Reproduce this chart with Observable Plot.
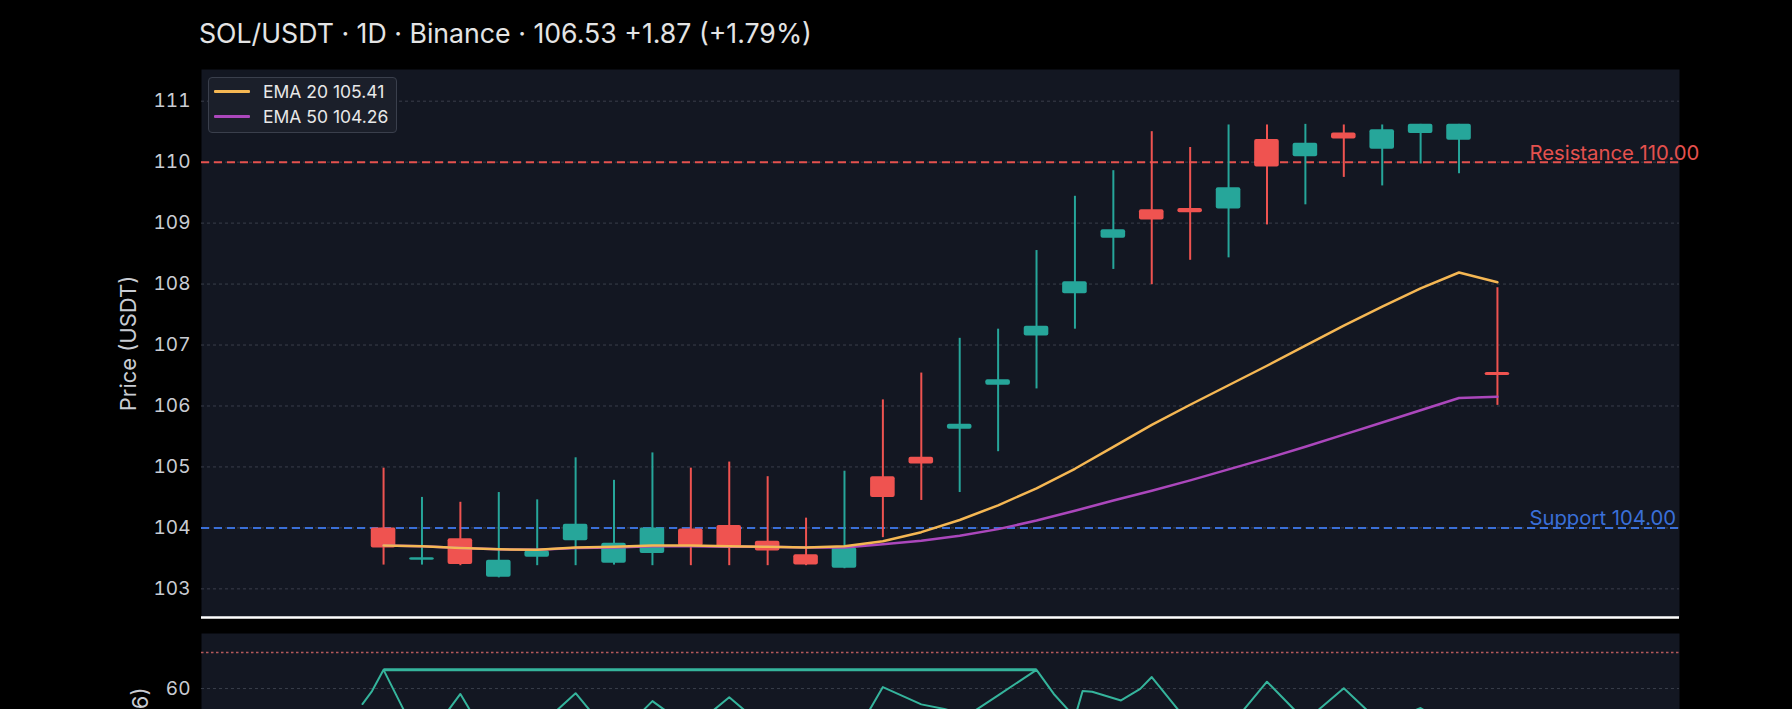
<!DOCTYPE html>
<html>
<head>
<meta charset="utf-8">
<script src="https://cdn.jsdelivr.net/npm/d3@7"></script>
<script src="https://cdn.jsdelivr.net/npm/@observablehq/plot@0.6"></script>
<style>
  html, body { margin: 0; padding: 0; background: #000; }
  body { font-family: Inter, "Noto Sans", sans-serif; }
  #wrap { position: relative; width: 1792px; }
  #title { height: 60px; line-height: 66px; padding-left: 199px; font-size: 26.7px; color: #e4e4e4; white-space: nowrap; }
  #main, #rsi { display: block; line-height: 0; }
  #legend { position: absolute; left: 208px; top: 77px; width: 189px; height: 56px; box-sizing: border-box;
            background: #1b1f2a; border: 1px solid #3a3f4c; border-radius: 4px; font-size: 17.5px; color: #e8e8e8; }
  .row { position: absolute; left: 5px; height: 20px; display: flex; align-items: center; white-space: nowrap; }
  .sw { width: 36px; height: 3px; margin-right: 13px; border-radius: 1px; }
</style>
</head>
<body>
<div id="wrap">
  <div id="title"></div>
  <div id="main"></div>
  <div id="rsi"></div>
  <div id="legend"></div>
</div>
<script>
// ---------- data ----------
const titleText = "SOL/USDT · 1D · Binance · 106.53 +1.87 (+1.79%)";
const opens  = [104.00,103.47,103.82,103.19,103.52,103.79,103.42,103.58,103.98,104.04,103.78,103.56,103.34,104.84,105.16,105.62,106.34,107.15,107.84,108.75,109.22,109.24,109.23,110.37,110.09,110.48,110.21,110.47,110.36,106.55];
const highs  = [104.98,104.50,104.42,104.58,104.46,105.15,104.78,105.23,104.98,105.08,104.84,104.16,104.93,106.10,106.54,107.11,107.26,108.55,109.44,109.86,110.50,110.24,110.61,110.61,110.62,110.61,110.61,110.62,110.62,107.94];
const lows   = [103.39,103.39,103.38,103.18,103.38,103.38,103.39,103.38,103.38,103.38,103.38,103.38,103.33,103.84,104.45,104.58,105.25,106.28,107.26,108.24,107.99,108.39,108.43,108.97,109.30,109.75,109.61,109.97,109.81,106.01];
const closes = [103.67,103.51,103.40,103.47,103.62,104.06,103.75,104.00,103.70,103.69,103.62,103.39,103.67,104.50,105.05,105.70,106.43,107.31,108.04,108.89,109.05,109.17,109.58,109.92,110.31,110.38,110.53,110.62,110.62,106.50];
const ema20  = [103.71,103.70,103.67,103.65,103.64,103.68,103.69,103.71,103.71,103.70,103.69,103.68,103.70,103.78,103.93,104.13,104.37,104.65,104.97,105.33,105.69,106.02,106.34,106.66,106.99,107.32,107.63,107.93,108.19,108.03];
const ema50  = [103.71,103.70,103.67,103.65,103.64,103.67,103.68,103.70,103.70,103.69,103.69,103.68,103.68,103.73,103.79,103.87,103.98,104.12,104.28,104.45,104.61,104.78,104.96,105.14,105.33,105.53,105.73,105.93,106.13,106.15];
const legendLabels = ["EMA 20 105.41", "EMA 50 104.26"];
const priceTicks = [103,104,105,106,107,108,109,110,111];
const levels = [{value: 110, label: "Resistance 110.00", kind: "res"}, {value: 104, label: "Support 104.00", kind: "sup"}];

// RSI (candle index position, value)
const rsiX = [-0.55,-0.3,0,1,2,3,4,5,6,7,8,9,10,11,12,13,14,14.6,15.2,16,17,17.45,18,18.2,18.45,19.2,19.7,20,21,22,23,24,25,26,27,28,29];
const rsiV = [55.7,59.3,65.2,44,58.5,40.5,49,58.7,45.8,56.5,48.8,57.6,48.5,45,42,60.4,55.6,54.3,52.5,58.1,65.2,58.5,52,59.3,59.1,56.7,59.9,63.2,50,49,61.9,51,60.1,50,54.6,48,45];
const rsiPeaks = [0, 17];          // candle indices joined by the RSI trend line
const rsiTicks = [20, 40, 60];
const rsiOverbought = [70];
const rsiLabel = "RSI (6)";

// ---------- styling ----------
const UP = "#26a69a", DOWN = "#ef5350";
const BG = "#131722", GRID = "#3a3e4b", AX = "#c9ccd3";
const C20 = "#f5b753", C50 = "#ab47bc";
const RES = "#e5514e", SUP = "#3a6fd8";
const pad = 4.74;

const candles = opens.map((o, i) => ({i, o, h: highs[i], l: lows[i], c: closes[i], up: closes[i] >= o}));
const n = candles.length;
const xDomain = [-pad, n - 1 + pad];
const priceDomain = [102.53, 111.52];

document.getElementById("title").textContent = titleText;

const main = Plot.plot({
  width: 1792, height: 566,
  marginLeft: 201, marginRight: 113, marginTop: 9, marginBottom: 9,
  style: {background: "transparent", color: AX, fontFamily: "Inter, 'Noto Sans', sans-serif", fontSize: "19px", overflow: "visible"},
  x: {domain: xDomain, axis: null},
  y: {domain: priceDomain, axis: null},
  marks: [
    Plot.frame({fill: BG, stroke: null}),
    Plot.ruleY(priceTicks, {stroke: GRID, strokeDasharray: "3,3", strokeWidth: 1}),
    Plot.axisY({ticks: priceTicks, tickSize: 0, tickPadding: 11, label: null, fontSize: 19, fill: AX}),
    Plot.text(["Price (USDT)"], {frameAnchor: "left", textAnchor: "middle", dx: -73, rotate: -90, fontSize: 22, fill: AX}),
    Plot.ruleY(levels, {y: "value", stroke: d => d.kind === "res" ? RES : SUP, strokeDasharray: "8,5", strokeWidth: 2}),
    Plot.text(levels, {x: () => n - 1, y: "value", text: "label", textAnchor: "start", dx: 32, dy: -9,
                       fill: d => d.kind === "res" ? RES : SUP, fontSize: 20.3}),
    Plot.ruleX(candles, {x: "i", y1: "l", y2: "h", stroke: d => d.up ? UP : DOWN, strokeWidth: 2}),
    Plot.rect(candles, {x1: d => d.i - 0.32, x2: d => d.i + 0.32, y1: "o", y2: "c",
                        fill: d => d.up ? UP : DOWN, rx: 2}),
    Plot.line(ema50, {x: (d, i) => i, y: d => d, stroke: C50, strokeWidth: 2.5}),
    Plot.line(ema20, {x: (d, i) => i, y: d => d, stroke: C20, strokeWidth: 2.5}),
    Plot.ruleY([priceDomain[0]], {stroke: "#ffffff", strokeWidth: 2.5})
  ]
});
document.getElementById("main").appendChild(main);

const rsiData = rsiX.map((x, k) => ({x, v: rsiV[k]}));
const peakPts = rsiPeaks.map(p => rsiData.find(d => d.x === p));
const rsi = Plot.plot({
  width: 1792, height: 220,
  marginLeft: 201, marginRight: 113, marginTop: 7, marginBottom: 14,
  style: {background: "transparent", color: AX, fontFamily: "Inter, 'Noto Sans', sans-serif", fontSize: "19px", overflow: "visible"},
  x: {domain: xDomain, axis: null},
  y: {domain: [20, 75.3], axis: null},
  marks: [
    Plot.frame({fill: BG, stroke: null}),
    Plot.ruleY(rsiTicks, {stroke: GRID, strokeDasharray: "3,3", strokeWidth: 1}),
    Plot.ruleY(rsiOverbought, {stroke: "#e06a6a", strokeOpacity: 0.8, strokeDasharray: "2.5,2.5", strokeWidth: 1.5}),
    Plot.axisY({ticks: rsiTicks, tickSize: 0, tickPadding: 11, label: null, fontSize: 19, fill: AX}),
    Plot.text([rsiLabel], {frameAnchor: "top-left", textAnchor: "middle", dx: -69, dy: 89, rotate: -90, fontSize: 22, fill: AX}),
    Plot.line(rsiData, {x: "x", y: "v", stroke: "#35b49c", strokeWidth: 2}),
    Plot.link([peakPts], {x1: d => d[0].x, y1: d => d[0].v, x2: d => d[1].x, y2: d => d[1].v,
                          stroke: "#35b49c", strokeWidth: 3})
  ]
});
document.getElementById("rsi").appendChild(rsi);

const legend = document.getElementById("legend");
[C20, C50].forEach((c, k) => {
  const row = document.createElement("div");
  row.className = "row";
  row.style.top = (3 + k * 25) + "px";
  row.innerHTML = `<span class="sw" style="background:${c}"></span><span>${legendLabels[k]}</span>`;
  legend.appendChild(row);
});
</script>
</body>
</html>
